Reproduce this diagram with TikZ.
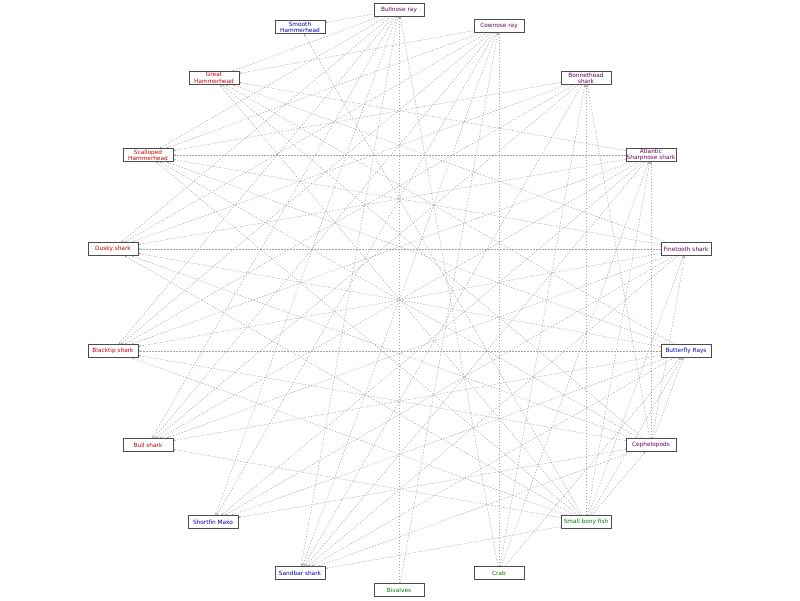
\documentclass[tikz,border=0pt]{standalone}
\usepackage{fontspec}
\setmainfont{DejaVu Sans}
\usetikzlibrary{arrows.meta,backgrounds}
\begin{document}
\begin{tikzpicture}[x=1pt,y=-1pt,
  box/.style={draw=black!70,fill=white,minimum width=50pt,minimum height=13pt,inner sep=0.5pt,font=\fontsize{5.8}{6.3}\selectfont,align=center},
  red/.style={box,text=red!75!black},
  blu/.style={box,text=blue!70!black},
  pur/.style={box,text=violet!80!black},
  grn/.style={box,text=green!50!black},
  edge/.style={draw=black!35,dash pattern=on 1.5pt off 1.5pt,line width=0.45pt,-{Stealth[length=2.5pt,width=2pt]}}]
\useasboundingbox (0,0) rectangle (800,600);
\node[pur] (bn) at (399,9.5) {Bullnose ray};
\node[blu] (sh) at (300,27) {Smooth\\Hammerhead};
\node[pur] (cr) at (499,26) {Cownose ray};
\node[red] (gh) at (214,78) {Great\\Hammerhead};
\node[pur] (bh) at (586,78) {Bonnethead\\shark};
\node[red] (sc) at (148,155) {Scalloped\\Hammerhead};
\node[pur] (as) at (651,155) {Atlantic\\Sharpnose shark};
\node[red] (du) at (113,249) {Dusky shark};
\node[pur] (ft) at (686,249) {Finetooth shark};
\node[red] (bt) at (113,351) {Blacktip shark};
\node[blu] (br) at (686,351) {Butterfly Rays};
\node[red] (bu) at (148,445) {Bull shark};
\node[pur] (ce) at (651,445) {Cephelopods};
\node[blu] (sm) at (213,522) {Shortfin Mako};
\node[grn] (sf) at (586,522) {Small bony fish};
\node[blu] (sb) at (300,573) {Sandbar shark};
\node[grn] (cb) at (499,573) {Crab};
\node[grn] (bv) at (399,590) {Bivalves};
\begin{scope}[on background layer]
\foreach \a/\b in {bv/bn,bv/cr,cb/bn,cb/cr,cb/bh,cb/as,cb/br,
  sf/ce,sf/br,sf/ft,sf/as,sf/bh,sf/gh,sf/sc,sf/du,sf/bt,sf/bu,sf/sb,sf/sh,
  ce/br,ce/ft,ce/as,ce/bh,ce/gh,ce/sc,ce/du,ce/bt,ce/sm,ce/sb,
  br/bt,br/du,br/bu,br/gh,br/sc,br/sb,br/sm,
  ft/du,ft/bt,ft/gh,ft/sc,ft/bu,ft/sb,ft/sm,
  as/du,as/bt,as/gh,as/sc,as/bu,as/sb,as/sm,
  bh/sc,bh/du,bh/bt,bh/bu,bh/sb,
  cr/gh,cr/sc,cr/du,cr/bt,cr/bu,cr/sb,cr/sm,
  bn/sh,bn/gh,bn/sc,bn/du,bn/bt,bn/bu,bn/sb,bn/sm}
  \draw[edge] (\a) -- (\b);
\end{scope}
\end{tikzpicture}
\end{document}
